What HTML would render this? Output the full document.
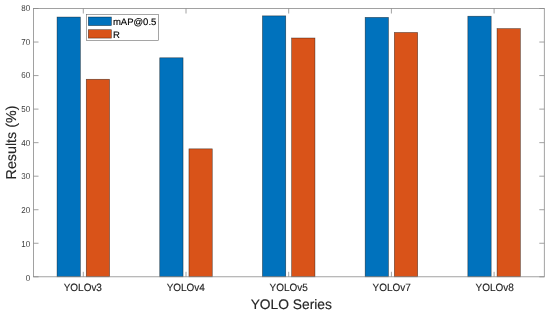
<!DOCTYPE html><html><head><meta charset="utf-8"><title>YOLO Series</title>
<style>html,body{margin:0;padding:0;background:#fff;}svg{display:block;}text{text-rendering:geometricPrecision;font-family:"Liberation Sans",Arial,Helvetica,sans-serif;fill:#262626;stroke:#262626;stroke-width:0.15px;}</style></head><body>
<svg width="550" height="315" viewBox="0 0 550 315">
<rect x="0" y="0" width="550" height="315" fill="#ffffff"/>
<rect x="57.05" y="17.05" width="23.30" height="259.75" fill="#0072BD" stroke="#000" stroke-opacity="0.6" stroke-width="0.6"/>
<rect x="86.25" y="79.26" width="23.30" height="197.54" fill="#D95319" stroke="#000" stroke-opacity="0.6" stroke-width="0.6"/>
<rect x="159.75" y="57.80" width="23.30" height="219.00" fill="#0072BD" stroke="#000" stroke-opacity="0.6" stroke-width="0.6"/>
<rect x="188.95" y="148.85" width="23.30" height="127.95" fill="#D95319" stroke="#000" stroke-opacity="0.6" stroke-width="0.6"/>
<rect x="262.45" y="15.88" width="23.30" height="260.92" fill="#0072BD" stroke="#000" stroke-opacity="0.6" stroke-width="0.6"/>
<rect x="291.65" y="38.01" width="23.30" height="238.79" fill="#D95319" stroke="#000" stroke-opacity="0.6" stroke-width="0.6"/>
<rect x="365.15" y="17.39" width="23.30" height="259.41" fill="#0072BD" stroke="#000" stroke-opacity="0.6" stroke-width="0.6"/>
<rect x="394.35" y="32.48" width="23.30" height="244.32" fill="#D95319" stroke="#000" stroke-opacity="0.6" stroke-width="0.6"/>
<rect x="467.85" y="16.21" width="23.30" height="260.59" fill="#0072BD" stroke="#000" stroke-opacity="0.6" stroke-width="0.6"/>
<rect x="497.05" y="28.62" width="23.30" height="248.18" fill="#D95319" stroke="#000" stroke-opacity="0.6" stroke-width="0.6"/>
<rect x="33.5" y="8.5" width="510.79999999999995" height="268.3" fill="none" stroke="#8a8a8a" stroke-width="0.8"/>
<line x1="83.30" y1="276.8" x2="83.30" y2="271.8" stroke="#8a8a8a" stroke-width="0.8"/>
<line x1="83.30" y1="8.5" x2="83.30" y2="13.5" stroke="#8a8a8a" stroke-width="0.8"/>
<text transform="translate(82.80,291.3) scale(0.94,1)" font-size="10.6" text-anchor="middle">YOLOv3</text>
<line x1="186.00" y1="276.8" x2="186.00" y2="271.8" stroke="#8a8a8a" stroke-width="0.8"/>
<line x1="186.00" y1="8.5" x2="186.00" y2="13.5" stroke="#8a8a8a" stroke-width="0.8"/>
<text transform="translate(185.75,291.3) scale(0.94,1)" font-size="10.6" text-anchor="middle">YOLOv4</text>
<line x1="288.70" y1="276.8" x2="288.70" y2="271.8" stroke="#8a8a8a" stroke-width="0.8"/>
<line x1="288.70" y1="8.5" x2="288.70" y2="13.5" stroke="#8a8a8a" stroke-width="0.8"/>
<text transform="translate(288.70,291.3) scale(0.94,1)" font-size="10.6" text-anchor="middle">YOLOv5</text>
<line x1="391.40" y1="276.8" x2="391.40" y2="271.8" stroke="#8a8a8a" stroke-width="0.8"/>
<line x1="391.40" y1="8.5" x2="391.40" y2="13.5" stroke="#8a8a8a" stroke-width="0.8"/>
<text transform="translate(391.65,291.3) scale(0.94,1)" font-size="10.6" text-anchor="middle">YOLOv7</text>
<line x1="494.10" y1="276.8" x2="494.10" y2="271.8" stroke="#8a8a8a" stroke-width="0.8"/>
<line x1="494.10" y1="8.5" x2="494.10" y2="13.5" stroke="#8a8a8a" stroke-width="0.8"/>
<text transform="translate(494.60,291.3) scale(0.94,1)" font-size="10.6" text-anchor="middle">YOLOv8</text>
<line x1="33.5" y1="276.80" x2="38.5" y2="276.80" stroke="#8a8a8a" stroke-width="0.8"/>
<line x1="544.3" y1="276.80" x2="539.3" y2="276.80" stroke="#8a8a8a" stroke-width="0.8"/>
<text transform="translate(30.1,280.65) scale(0.93,1)" font-size="8.6" text-anchor="end" style="fill:#3d3d3d;stroke:none">0</text>
<line x1="33.5" y1="243.26" x2="38.5" y2="243.26" stroke="#8a8a8a" stroke-width="0.8"/>
<line x1="544.3" y1="243.26" x2="539.3" y2="243.26" stroke="#8a8a8a" stroke-width="0.8"/>
<text transform="translate(30.1,246.54) scale(0.93,1)" font-size="8.6" text-anchor="end" style="fill:#3d3d3d;stroke:none">10</text>
<line x1="33.5" y1="209.73" x2="38.5" y2="209.73" stroke="#8a8a8a" stroke-width="0.8"/>
<line x1="544.3" y1="209.73" x2="539.3" y2="209.73" stroke="#8a8a8a" stroke-width="0.8"/>
<text transform="translate(30.1,212.93) scale(0.93,1)" font-size="8.6" text-anchor="end" style="fill:#3d3d3d;stroke:none">20</text>
<line x1="33.5" y1="176.19" x2="38.5" y2="176.19" stroke="#8a8a8a" stroke-width="0.8"/>
<line x1="544.3" y1="176.19" x2="539.3" y2="176.19" stroke="#8a8a8a" stroke-width="0.8"/>
<text transform="translate(30.1,179.31) scale(0.93,1)" font-size="8.6" text-anchor="end" style="fill:#3d3d3d;stroke:none">30</text>
<line x1="33.5" y1="142.65" x2="38.5" y2="142.65" stroke="#8a8a8a" stroke-width="0.8"/>
<line x1="544.3" y1="142.65" x2="539.3" y2="142.65" stroke="#8a8a8a" stroke-width="0.8"/>
<text transform="translate(30.1,145.70) scale(0.93,1)" font-size="8.6" text-anchor="end" style="fill:#3d3d3d;stroke:none">40</text>
<line x1="33.5" y1="109.11" x2="38.5" y2="109.11" stroke="#8a8a8a" stroke-width="0.8"/>
<line x1="544.3" y1="109.11" x2="539.3" y2="109.11" stroke="#8a8a8a" stroke-width="0.8"/>
<text transform="translate(30.1,112.09) scale(0.93,1)" font-size="8.6" text-anchor="end" style="fill:#3d3d3d;stroke:none">50</text>
<line x1="33.5" y1="75.58" x2="38.5" y2="75.58" stroke="#8a8a8a" stroke-width="0.8"/>
<line x1="544.3" y1="75.58" x2="539.3" y2="75.58" stroke="#8a8a8a" stroke-width="0.8"/>
<text transform="translate(30.1,78.48) scale(0.93,1)" font-size="8.6" text-anchor="end" style="fill:#3d3d3d;stroke:none">60</text>
<line x1="33.5" y1="42.04" x2="38.5" y2="42.04" stroke="#8a8a8a" stroke-width="0.8"/>
<line x1="544.3" y1="42.04" x2="539.3" y2="42.04" stroke="#8a8a8a" stroke-width="0.8"/>
<text transform="translate(30.1,44.86) scale(0.93,1)" font-size="8.6" text-anchor="end" style="fill:#3d3d3d;stroke:none">70</text>
<line x1="33.5" y1="8.50" x2="38.5" y2="8.50" stroke="#8a8a8a" stroke-width="0.8"/>
<line x1="544.3" y1="8.50" x2="539.3" y2="8.50" stroke="#8a8a8a" stroke-width="0.8"/>
<text transform="translate(30.1,11.25) scale(0.93,1)" font-size="8.6" text-anchor="end" style="fill:#3d3d3d;stroke:none">80</text>
<text x="291.3" y="308.7" font-size="13.8" text-anchor="middle">YOLO Series</text>
<text transform="translate(16,142.5) rotate(-90)" font-size="14.3" text-anchor="middle">Results (%)</text>
<rect x="86.4" y="14.5" width="72.1" height="25.9" fill="#ffffff" stroke="#6a6a6a" stroke-width="0.6"/>
<rect x="88.3" y="17" width="23.1" height="8.6" fill="#0072BD" stroke="#000" stroke-opacity="0.6" stroke-width="0.6"/>
<rect x="88.3" y="29.7" width="23.1" height="8.4" fill="#D95319" stroke="#000" stroke-opacity="0.6" stroke-width="0.6"/>
<text x="112.9" y="24.9" font-size="9.5" style="fill:#000;stroke:#000">mAP@0.5</text>
<text x="112.9" y="37.7" font-size="9.5" style="fill:#000;stroke:#000">R</text>
</svg></body></html>
